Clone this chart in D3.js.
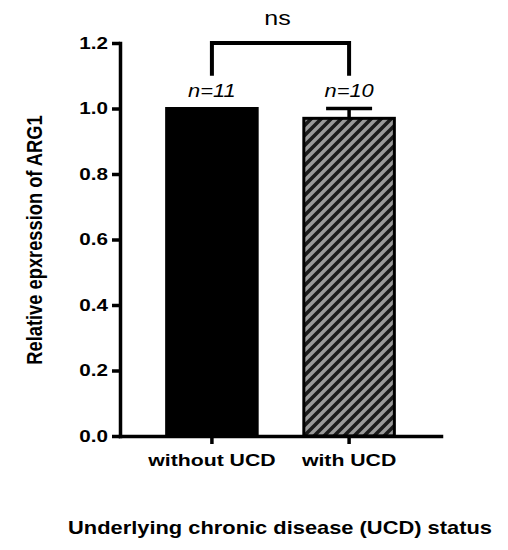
<!DOCTYPE html>
<html>
<head>
<meta charset="utf-8">
<script src="https://cdn.jsdelivr.net/npm/d3@7"></script>
<style>
  body { margin: 0; background: #fff; }
  text { font-family: "Liberation Sans", Arial, sans-serif; }
</style>
</head>
<body>
<svg id="chart" width="508" height="550"></svg>
<script>
// data
var groups = ["without UCD", "with UCD"];
var means = [1.0, 0.97];
var sems = [0, 0.03];
var nLabels = ["n=11", "n=10"];
var yTicks = [0, 0.2, 0.4, 0.6, 0.8, 1.0, 1.2];
var bracketTop = 1.2, bracketLeg = 1.1, bracketText = "ns";

var sx = 1.25; // reference text looks stretched horizontally

var svg = d3.select("#chart");

var x = d3.scaleBand().domain(groups).range([120, 441]).padding(0.34);
var y = d3.scaleLinear().domain([0, 1.2]).range([436, 43]);

// hatch pattern
var defs = svg.append("defs");
var pat = defs.append("pattern")
  .attr("id", "hatch")
  .attr("patternUnits", "userSpaceOnUse")
  .attr("width", 10)
  .attr("height", 10);
pat.append("rect").attr("width", 10).attr("height", 10).attr("fill", "#9a9a9a");
pat.append("path")
  .attr("d", "M-2,12 L12,-2 M-7,7 L7,-7 M3,17 L17,3")
  .attr("stroke", "#1a1a1a")
  .attr("stroke-width", 3.6);

// bars
svg.selectAll("rect.bar")
  .data(groups)
  .enter().append("rect")
  .attr("class", "bar")
  .attr("x", function(d) { return x(d); })
  .attr("y", function(d, i) { return y(means[i]); })
  .attr("width", x.bandwidth())
  .attr("height", function(d, i) { return y(0) - y(means[i]); })
  .attr("fill", function(d, i) { return i === 0 ? "#000" : "url(#hatch)"; })
  .attr("stroke", "#000")
  .attr("stroke-width", 3);

// error bars (upper half)
groups.forEach(function(g, i) {
  if (!sems[i]) return;
  var cx = x(g) + x.bandwidth() / 2;
  svg.append("line")
    .attr("x1", cx).attr("x2", cx)
    .attr("y1", y(means[i])).attr("y2", y(means[i] + sems[i]))
    .attr("stroke", "#000").attr("stroke-width", 3.5);
  svg.append("line")
    .attr("x1", cx - 23).attr("x2", cx + 23)
    .attr("y1", y(means[i] + sems[i])).attr("y2", y(means[i] + sems[i]))
    .attr("stroke", "#000").attr("stroke-width", 3.5);
});

// y axis
var yAxis = svg.append("g")
  .attr("transform", "translate(120,0)")
  .call(d3.axisLeft(y).tickValues(yTicks).tickFormat(d3.format(".1f")).tickSize(8).tickSizeOuter(0));
yAxis.select(".domain").attr("stroke-width", 3.5).attr("stroke-linecap", "square");
yAxis.selectAll(".tick line").attr("stroke-width", 3.5);
yAxis.selectAll(".tick text")
  .attr("x", -12 / sx)
  .attr("transform", "scale(" + sx + ",1)")
  .attr("font-size", 16.5)
  .attr("font-weight", "bold")
  .attr("font-family", "Liberation Sans, Arial, sans-serif")
  .attr("fill", "#000");

// x axis
var xAxis = svg.append("g")
  .attr("transform", "translate(0,436)")
  .call(d3.axisBottom(x).tickSize(8).tickSizeOuter(0));
xAxis.select(".domain").attr("stroke-width", 3.5).attr("stroke-linecap", "square");
xAxis.selectAll(".tick line").attr("stroke-width", 3.5);
xAxis.selectAll(".tick text").remove();
xAxis.selectAll(".tick").append("text")
  .attr("transform", "translate(0,30) scale(" + sx + ",1)")
  .attr("text-anchor", "middle")
  .attr("font-size", 17)
  .attr("font-weight", "bold")
  .attr("font-family", "Liberation Sans, Arial, sans-serif")
  .attr("fill", "#000")
  .text(function(d) { return d; });

// n labels
svg.selectAll("text.nlab")
  .data(groups)
  .enter().append("text")
  .attr("class", "nlab")
  .attr("transform", function(d) {
    return "translate(" + (x(d) + x.bandwidth() / 2) + ",97) scale(" + sx + ",1)";
  })
  .attr("text-anchor", "middle")
  .attr("font-size", 17.5)
  .attr("font-style", "italic")
  .text(function(d, i) { return nLabels[i]; });

// significance bracket
var bx1 = x(groups[0]) + x.bandwidth() / 2;
var bx2 = x(groups[1]) + x.bandwidth() / 2;
svg.append("path")
  .attr("d", "M" + bx1 + "," + y(bracketLeg) + " L" + bx1 + "," + y(bracketTop) +
             " L" + bx2 + "," + y(bracketTop) + " L" + bx2 + "," + y(bracketLeg))
  .attr("fill", "none")
  .attr("stroke", "#000")
  .attr("stroke-width", 4);

svg.append("text")
  .attr("transform", "translate(" + ((bx1 + bx2) / 2 - 3) + ",25) scale(" + sx + ",1)")
  .attr("text-anchor", "middle")
  .attr("font-size", 20)
  .text(bracketText);

// axis titles
svg.append("text")
  .attr("transform", "translate(42,240) scale(" + sx + ",1) rotate(-90)")
  .attr("text-anchor", "middle")
  .attr("font-size", 18.3)
  .attr("font-weight", "bold")
  .text("Relative epxression of ARG1");

svg.append("text")
  .attr("transform", "translate(280,534) scale(" + sx + ",1)")
  .attr("text-anchor", "middle")
  .attr("font-size", 17.5)
  .attr("font-weight", "bold")
  .text("Underlying chronic disease (UCD) status");
</script>
</body>
</html>
